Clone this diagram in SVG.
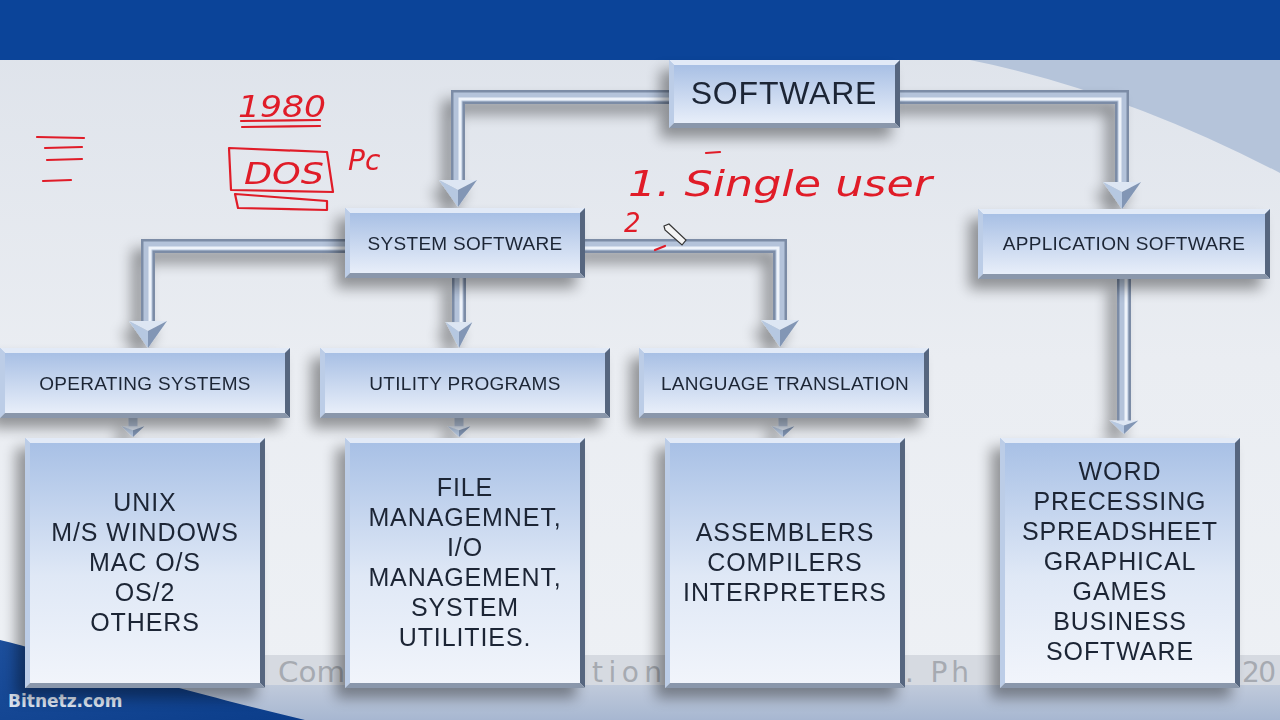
<svg xmlns="http://www.w3.org/2000/svg" xmlns:xlink="http://www.w3.org/1999/xlink" width="1280" height="720" viewBox="0 0 1280 720">
<defs>
<style>
.lbl{font-family:"Liberation Sans",Arial,sans-serif;fill:#1c2535;text-anchor:middle}
.sm{font-size:19px;letter-spacing:0.3px}
.big{font-size:25px;letter-spacing:0.9px}
.foot{font-family:"DejaVu Sans",sans-serif;font-size:28px;fill:#a6aab1}
.ink{fill:none;stroke:#e01c28;stroke-width:2.2;stroke-linecap:round;stroke-linejoin:round}
.inkt{font-family:"DejaVu Sans",sans-serif;fill:#e01c28;font-style:italic}
.tube1{fill:none;stroke:#7c8ca6;stroke-width:14;stroke-linejoin:miter}
.tube2{fill:none;stroke:#b4c3da;stroke-width:9;stroke-linejoin:miter}
.tube3{fill:none;stroke:#eef3fa;stroke-width:3;stroke-linejoin:miter}
.bt{fill:#e2eaf7}.bl{fill:#bccde7}.br{fill:#56667f}.bb{fill:#8a97ab}
</style>
<linearGradient id="bg" x1="0" y1="0" x2="0" y2="1">
<stop offset="0" stop-color="#dde2ea"/><stop offset="0.5" stop-color="#eaedf2"/><stop offset="1" stop-color="#eef1f5"/>
</linearGradient>
<linearGradient id="boxg" x1="0" y1="0" x2="0" y2="1">
<stop offset="0" stop-color="#a3bce3"/><stop offset="1" stop-color="#edf2fb"/>
</linearGradient>
<linearGradient id="boxt" x1="0" y1="0" x2="0" y2="1">
<stop offset="0" stop-color="#a6bfe5"/><stop offset="0.55" stop-color="#dfe8f6"/><stop offset="1" stop-color="#f2f5fb"/>
</linearGradient>
<linearGradient id="botg" x1="0" y1="0" x2="0" y2="1">
<stop offset="0" stop-color="#c0cadb"/><stop offset="1" stop-color="#a7b7d1"/>
</linearGradient>
<linearGradient id="wave" x1="0" y1="0" x2="1" y2="1">
<stop offset="0" stop-color="#1d4f9c"/><stop offset="1" stop-color="#0b3d8a"/>
</linearGradient>
<filter id="sh" x="-20%" y="-20%" width="140%" height="160%">
<feGaussianBlur in="SourceAlpha" stdDeviation="7"/>
<feOffset dx="-9" dy="10"/>
<feComponentTransfer><feFuncA type="linear" slope="0.38"/></feComponentTransfer>
<feMerge><feMergeNode/><feMergeNode in="SourceGraphic"/></feMerge>
</filter>
<g id="head">
<polygon points="-19,-27 19,-27 0,-17" fill="#dde6f3"/>
<polygon points="-19,-27 0,-17 0,0" fill="#b6c8e1"/>
<polygon points="19,-27 0,-17 0,0" fill="#8296b5"/>
</g>
</defs>

<!-- background -->
<rect x="0" y="0" width="1280" height="720" fill="url(#bg)"/>
<path d="M 970 60 Q 1120 90 1280 173 V 60 Z" fill="#b5c4da"/>
<rect x="0" y="0" width="1280" height="60" fill="#0b4499"/>
<rect x="0" y="655" width="1280" height="30" fill="#d6dae1"/>
<rect x="0" y="685" width="1280" height="35" fill="url(#botg)"/>
<path d="M 0 640 C 60 655 180 690 305 720 L 0 720 Z" fill="url(#wave)"/>
<g id="footer">
<text class="foot" x="278" y="682" textLength="67" lengthAdjust="spacingAndGlyphs">Com</text>
<text class="foot" x="592" y="682" textLength="70" lengthAdjust="spacing">tion</text>
<text class="foot" x="905" y="682" textLength="64" lengthAdjust="spacing">. Ph</text>
<text class="foot" x="1242" y="682" textLength="34" lengthAdjust="spacing">20</text>
</g>
<text x="8" y="707" font-family="'DejaVu Sans',sans-serif" font-size="17" font-weight="bold" fill="#dce4f1">Bitnetz.com</text>

<!-- connectors -->
<g id="connectors" filter="url(#sh)">
<g>
<path class="tube1" d="M 669 97 H 458 V 181"/><path class="tube2" d="M 669 97 H 458 V 181"/><path class="tube3" d="M 669 99 H 460 V 181"/>
<use xlink:href="#head" transform="translate(458,207)"/>
</g>
<g>
<path class="tube1" d="M 900 97 H 1122 V 183"/><path class="tube2" d="M 900 97 H 1122 V 183"/><path class="tube3" d="M 900 99 H 1120 V 183"/>
<use xlink:href="#head" transform="translate(1122,209)"/>
</g>
<g>
<path class="tube1" d="M 345 246 H 148 V 322"/><path class="tube2" d="M 345 246 H 148 V 322"/><path class="tube3" d="M 345 248 H 150 V 322"/>
<use xlink:href="#head" transform="translate(148,348)"/>
</g>
<g>
<path class="tube1" d="M 459 278 V 322"/><path class="tube2" d="M 459 278 V 322"/><path class="tube3" d="M 461 278 V 322"/>
<use xlink:href="#head" transform="translate(459,348) scale(0.7,0.95)"/>
</g>
<g>
<path class="tube1" d="M 585 246 H 780 V 321"/><path class="tube2" d="M 585 246 H 780 V 321"/><path class="tube3" d="M 585 248 H 778 V 321"/>
<use xlink:href="#head" transform="translate(780,347)"/>
</g>
<g>
<path class="tube1" d="M 1124 279 V 421"/><path class="tube2" d="M 1124 279 V 421"/><path class="tube3" d="M 1126 279 V 421"/>
<use xlink:href="#head" transform="translate(1124,434) scale(0.75,0.5)"/>
</g>
<g>
<path class="tube2" d="M 133 418 V 429" stroke-width="10"/><use xlink:href="#head" transform="translate(133,437) scale(0.6,0.4)"/>
<path class="tube2" d="M 459 418 V 429" stroke-width="10"/><use xlink:href="#head" transform="translate(459,437) scale(0.6,0.4)"/>
<path class="tube2" d="M 783 418 V 429" stroke-width="10"/><use xlink:href="#head" transform="translate(783,437) scale(0.6,0.4)"/>
</g>
</g>

<!-- nodes -->
<g id="n-software">
<g filter="url(#sh)"><rect x="669" y="60" width="231" height="68" fill="url(#boxg)"/></g>
<polygon class="bt" points="669,60 900,60 895,65 674,65"/><polygon class="bl" points="669,60 674,65 674,123 669,128"/><polygon class="br" points="900,60 900,128 895,123 895,65"/><polygon class="bb" points="669,128 900,128 895,123 674,123"/>
<text class="lbl" x="784" y="104" font-size="32" letter-spacing="0.8">SOFTWARE</text>
</g>
<g id="n-system">
<g filter="url(#sh)"><rect x="345" y="208" width="240" height="70" fill="url(#boxg)"/></g>
<polygon class="bt" points="345,208 585,208 580,213 350,213"/><polygon class="bl" points="345,208 350,213 350,273 345,278"/><polygon class="br" points="585,208 585,278 580,273 580,213"/><polygon class="bb" points="345,278 585,278 580,273 350,273"/>
<text class="lbl sm" x="465" y="250">SYSTEM SOFTWARE</text>
</g>
<g id="n-application">
<g filter="url(#sh)"><rect x="978" y="209" width="292" height="70" fill="url(#boxg)"/></g>
<polygon class="bt" points="978,209 1270,209 1265,214 983,214"/><polygon class="bl" points="978,209 983,214 983,274 978,279"/><polygon class="br" points="1270,209 1270,279 1265,274 1265,214"/><polygon class="bb" points="978,279 1270,279 1265,274 983,274"/>
<text class="lbl sm" x="1124" y="250">APPLICATION SOFTWARE</text>
</g>
<g id="n-os">
<g filter="url(#sh)"><rect x="0" y="348" width="290" height="70" fill="url(#boxg)"/></g>
<polygon class="bt" points="0,348 290,348 285,353 5,353"/><polygon class="bl" points="0,348 5,353 5,413 0,418"/><polygon class="br" points="290,348 290,418 285,413 285,353"/><polygon class="bb" points="0,418 290,418 285,413 5,413"/>
<text class="lbl sm" x="145" y="390">OPERATING SYSTEMS</text>
</g>
<g id="n-utility">
<g filter="url(#sh)"><rect x="320" y="348" width="290" height="70" fill="url(#boxg)"/></g>
<polygon class="bt" points="320,348 610,348 605,353 325,353"/><polygon class="bl" points="320,348 325,353 325,413 320,418"/><polygon class="br" points="610,348 610,418 605,413 605,353"/><polygon class="bb" points="320,418 610,418 605,413 325,413"/>
<text class="lbl sm" x="465" y="390">UTILITY PROGRAMS</text>
</g>
<g id="n-language">
<g filter="url(#sh)"><rect x="639" y="348" width="290" height="70" fill="url(#boxg)"/></g>
<polygon class="bt" points="639,348 929,348 924,353 644,353"/><polygon class="bl" points="639,348 644,353 644,413 639,418"/><polygon class="br" points="929,348 929,418 924,413 924,353"/><polygon class="bb" points="639,418 929,418 924,413 644,413"/>
<text class="lbl sm" x="785" y="390">LANGUAGE TRANSLATION</text>
</g>
<g id="n-os-list">
<g filter="url(#sh)"><rect x="25" y="438" width="240" height="250" fill="url(#boxt)"/></g>
<polygon class="bt" points="25,438 265,438 260,443 30,443"/><polygon class="bl" points="25,438 30,443 30,683 25,688"/><polygon class="br" points="265,438 265,688 260,683 260,443"/><polygon class="bb" points="25,688 265,688 260,683 30,683"/>
<text class="lbl big" x="145" y="511">UNIX</text>
<text class="lbl big" x="145" y="541">M/S WINDOWS</text>
<text class="lbl big" x="145" y="571">MAC O/S</text>
<text class="lbl big" x="145" y="601">OS/2</text>
<text class="lbl big" x="145" y="631">OTHERS</text>
</g>
<g id="n-util-list">
<g filter="url(#sh)"><rect x="345" y="438" width="240" height="250" fill="url(#boxt)"/></g>
<polygon class="bt" points="345,438 585,438 580,443 350,443"/><polygon class="bl" points="345,438 350,443 350,683 345,688"/><polygon class="br" points="585,438 585,688 580,683 580,443"/><polygon class="bb" points="345,688 585,688 580,683 350,683"/>
<text class="lbl big" x="465" y="496">FILE</text>
<text class="lbl big" x="465" y="526">MANAGEMNET,</text>
<text class="lbl big" x="465" y="556">I/O</text>
<text class="lbl big" x="465" y="586">MANAGEMENT,</text>
<text class="lbl big" x="465" y="616">SYSTEM</text>
<text class="lbl big" x="465" y="646">UTILITIES.</text>
</g>
<g id="n-lang-list">
<g filter="url(#sh)"><rect x="665" y="438" width="240" height="250" fill="url(#boxt)"/></g>
<polygon class="bt" points="665,438 905,438 900,443 670,443"/><polygon class="bl" points="665,438 670,443 670,683 665,688"/><polygon class="br" points="905,438 905,688 900,683 900,443"/><polygon class="bb" points="665,688 905,688 900,683 670,683"/>
<text class="lbl big" x="785" y="541">ASSEMBLERS</text>
<text class="lbl big" x="785" y="571">COMPILERS</text>
<text class="lbl big" x="785" y="601">INTERPRETERS</text>
</g>
<g id="n-app-list">
<g filter="url(#sh)"><rect x="1000" y="438" width="240" height="250" fill="url(#boxt)"/></g>
<polygon class="bt" points="1000,438 1240,438 1235,443 1005,443"/><polygon class="bl" points="1000,438 1005,443 1005,683 1000,688"/><polygon class="br" points="1240,438 1240,688 1235,683 1235,443"/><polygon class="bb" points="1000,688 1240,688 1235,683 1005,683"/>
<text class="lbl big" x="1120" y="480">WORD</text>
<text class="lbl big" x="1120" y="510">PRECESSING</text>
<text class="lbl big" x="1120" y="540">SPREADSHEET</text>
<text class="lbl big" x="1120" y="570">GRAPHICAL</text>
<text class="lbl big" x="1120" y="600">GAMES</text>
<text class="lbl big" x="1120" y="630">BUSINESS</text>
<text class="lbl big" x="1120" y="660">SOFTWARE</text>
</g>

<!-- handwritten annotations -->
<g id="annotations">
<path class="ink" d="M 37 137 L 84 138 M 45 148 L 82 147 M 47 160 L 82 159 M 43 181 L 71 180"/>
<text class="inkt" x="238" y="117" font-size="30" textLength="88" lengthAdjust="spacingAndGlyphs">1980</text>
<path class="ink" d="M 241 121 L 320 120 M 242 127 L 320 126"/>
<path class="ink" d="M 229 148 L 327 152 L 333 192 L 231 190 Z"/>
<text class="inkt" x="244" y="184" font-size="30" textLength="80" lengthAdjust="spacingAndGlyphs">DOS</text>
<path class="ink" d="M 235 194 L 327 201 L 327 210 L 238 208 Z"/>
<text class="inkt" x="348" y="170" font-size="28">Pc</text>
<text class="inkt" x="628" y="196" font-size="36" textLength="304" lengthAdjust="spacingAndGlyphs">1. Single user</text>
<path class="ink" d="M 706 153 L 720 152"/>
<text class="inkt" x="624" y="232" font-size="26">2</text>
<path d="M 664 226 L 669 224 L 686 240 L 682 245 L 665 230 Z" fill="#f4f4f4" stroke="#333" stroke-width="1.2"/>
<path class="ink" d="M 655 250 L 665 246" stroke="#9a8aa0"/>
</g>
</svg>
